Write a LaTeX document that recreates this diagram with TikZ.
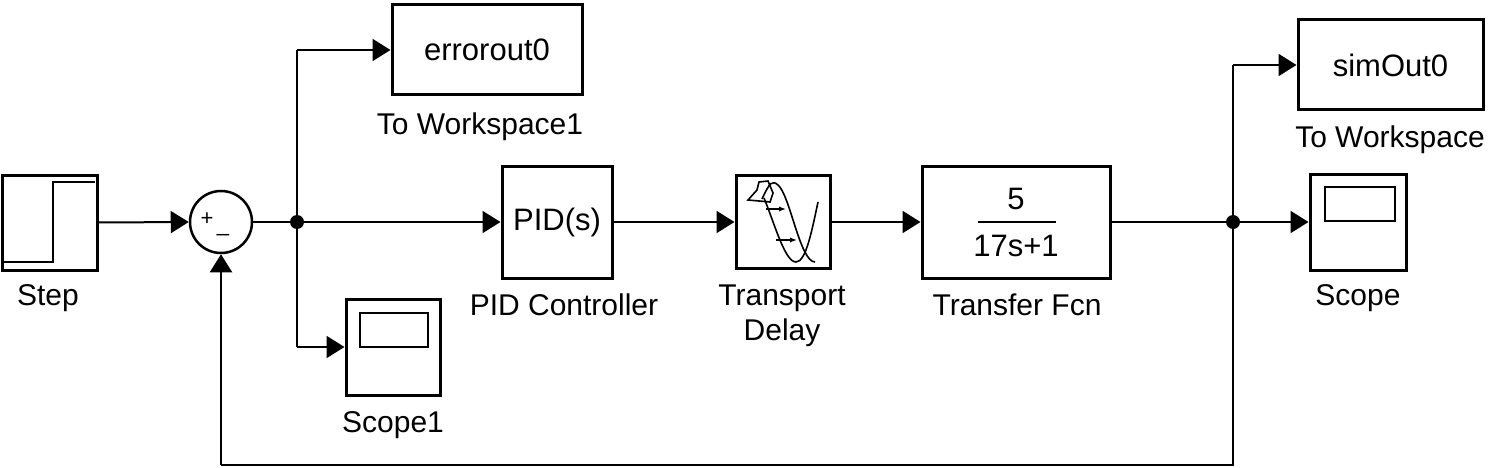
\documentclass[tikz,border=0pt]{standalone}
\usepackage{fontspec}
\setmainfont{Liberation Sans}
\usetikzlibrary{arrows.meta}
\begin{document}
\begin{tikzpicture}[x=1pt,y=-1pt,
  blk/.style={draw,line width=3pt,fill=white,inner sep=0pt},
  lbl/.style={font=\fontsize{30}{35}\selectfont,align=center},
  inl/.style={font=\fontsize{31}{35}\selectfont},
  con/.style={line width=2pt,-{Triangle[length=18pt,width=22pt]}},
  ln/.style={line width=2pt},
  dot/.style={circle,fill,inner sep=0pt,minimum size=14pt}]
\useasboundingbox (0,0) rectangle (1493,468);
% blocks
\node[blk,minimum width=95pt,minimum height=95pt] (step) at (49.5,222.5) {};
\draw[line width=1.8pt] (4,262) -- (53,262) -- (53,182) -- (95,182);
\node[lbl] (stepl) at (48,298) {Step};
\node[draw,circle,line width=2.5pt,minimum size=62pt,inner sep=0pt] (sum) at (221,222) {};
\node[font=\fontsize{22}{22}\selectfont] at (207,219) {+};
\node[font=\fontsize{22}{22}\selectfont] at (223,234) {\_};
\node[dot] (j1) at (297,222) {};
\coordinate (c1t) at (297,50);
\coordinate (c1b) at (297,347);
\node[blk,minimum width=190pt,minimum height=90pt,inl] (err) at (487,50) {errorout0};
\node[lbl] (errl) at (480,127) {To Workspace1};
\node[blk,minimum width=94pt,minimum height=96pt] (sc1) at (393,347) {};
\draw[line width=1.8pt] (360,313) rectangle (428,347);
\node[lbl] (sc1l) at (393,425) {Scope1};
\node[blk,minimum width=110pt,minimum height=112pt,inl] (pid) at (557,222) {PID(s)};
\node[lbl] (pidl) at (564,305) {PID Controller};
\node[blk,minimum width=94pt,minimum height=93pt] (td) at (783,222) {};
\begin{scope}[line width=1.6pt]
\draw (748,200) -- (757,190) -- (759,182) -- (768,181) -- (773,193) -- (770,202) -- cycle;
\draw (762,199) .. controls (770,182) and (772,180) .. (778,185) .. controls (790,195) and (800,262) .. (815,262);
\draw (764,198) .. controls (775,225) and (785,262) .. (796,262) .. controls (806,262) and (812,230) .. (818,202);
\draw[-{Latex[length=7pt]}] (766,209) -- (786,209);
\draw[-{Latex[length=7pt]}] (776,240) -- (797,240);
\end{scope}
\node[lbl] (tdl) at (782,316) {Transport\\Delay};
\node[blk,minimum width=188pt,minimum height=112pt] (tf) at (1016,222) {};
\node[inl] at (1016,199) {5};
\draw[line width=1.4pt] (978,222) -- (1056,222);
\node[inl] at (1016,246) {17s+1};
\node[lbl] (tfl) at (1017,305) {Transfer Fcn};
\node[dot] (j2) at (1233,222) {};
\coordinate (c2t) at (1233,65);
\coordinate (c2b) at (1233,465);
\coordinate (c3) at (221,465);
\node[blk,minimum width=185pt,minimum height=90pt,inl] (so) at (1390.5,65) {simOut0};
\node[lbl] (sol) at (1390,140) {To Workspace};
\node[blk,minimum width=96pt,minimum height=96pt] (sc) at (1358,222) {};
\draw[line width=1.8pt] (1325,187) rectangle (1395,221);
\node[lbl] (scl) at (1358,298) {Scope};
% connectors
\draw[con] (step.east) -- (sum.west);
\draw[ln] (sum.east) -- (j1);
\draw[con] (j1) -- (pid.west);
\draw[ln] (j1) -- (c1t);
\draw[con] (c1t) -- (err.west);
\draw[ln] (j1) -- (c1b);
\draw[con] (c1b) -- (sc1.west);
\draw[con] (pid.east) -- (td.west);
\draw[con] (td.east) -- (tf.west);
\draw[ln] (tf.east) -- (j2);
\draw[con] (j2) -- (sc.west);
\draw[ln] (j2) -- (c2t);
\draw[con] (c2t) -- (so.west);
\draw[ln] (j2) -- (c2b) -- (c3);
\draw[con] (c3) -- (sum.south);
\end{tikzpicture}
\end{document}
